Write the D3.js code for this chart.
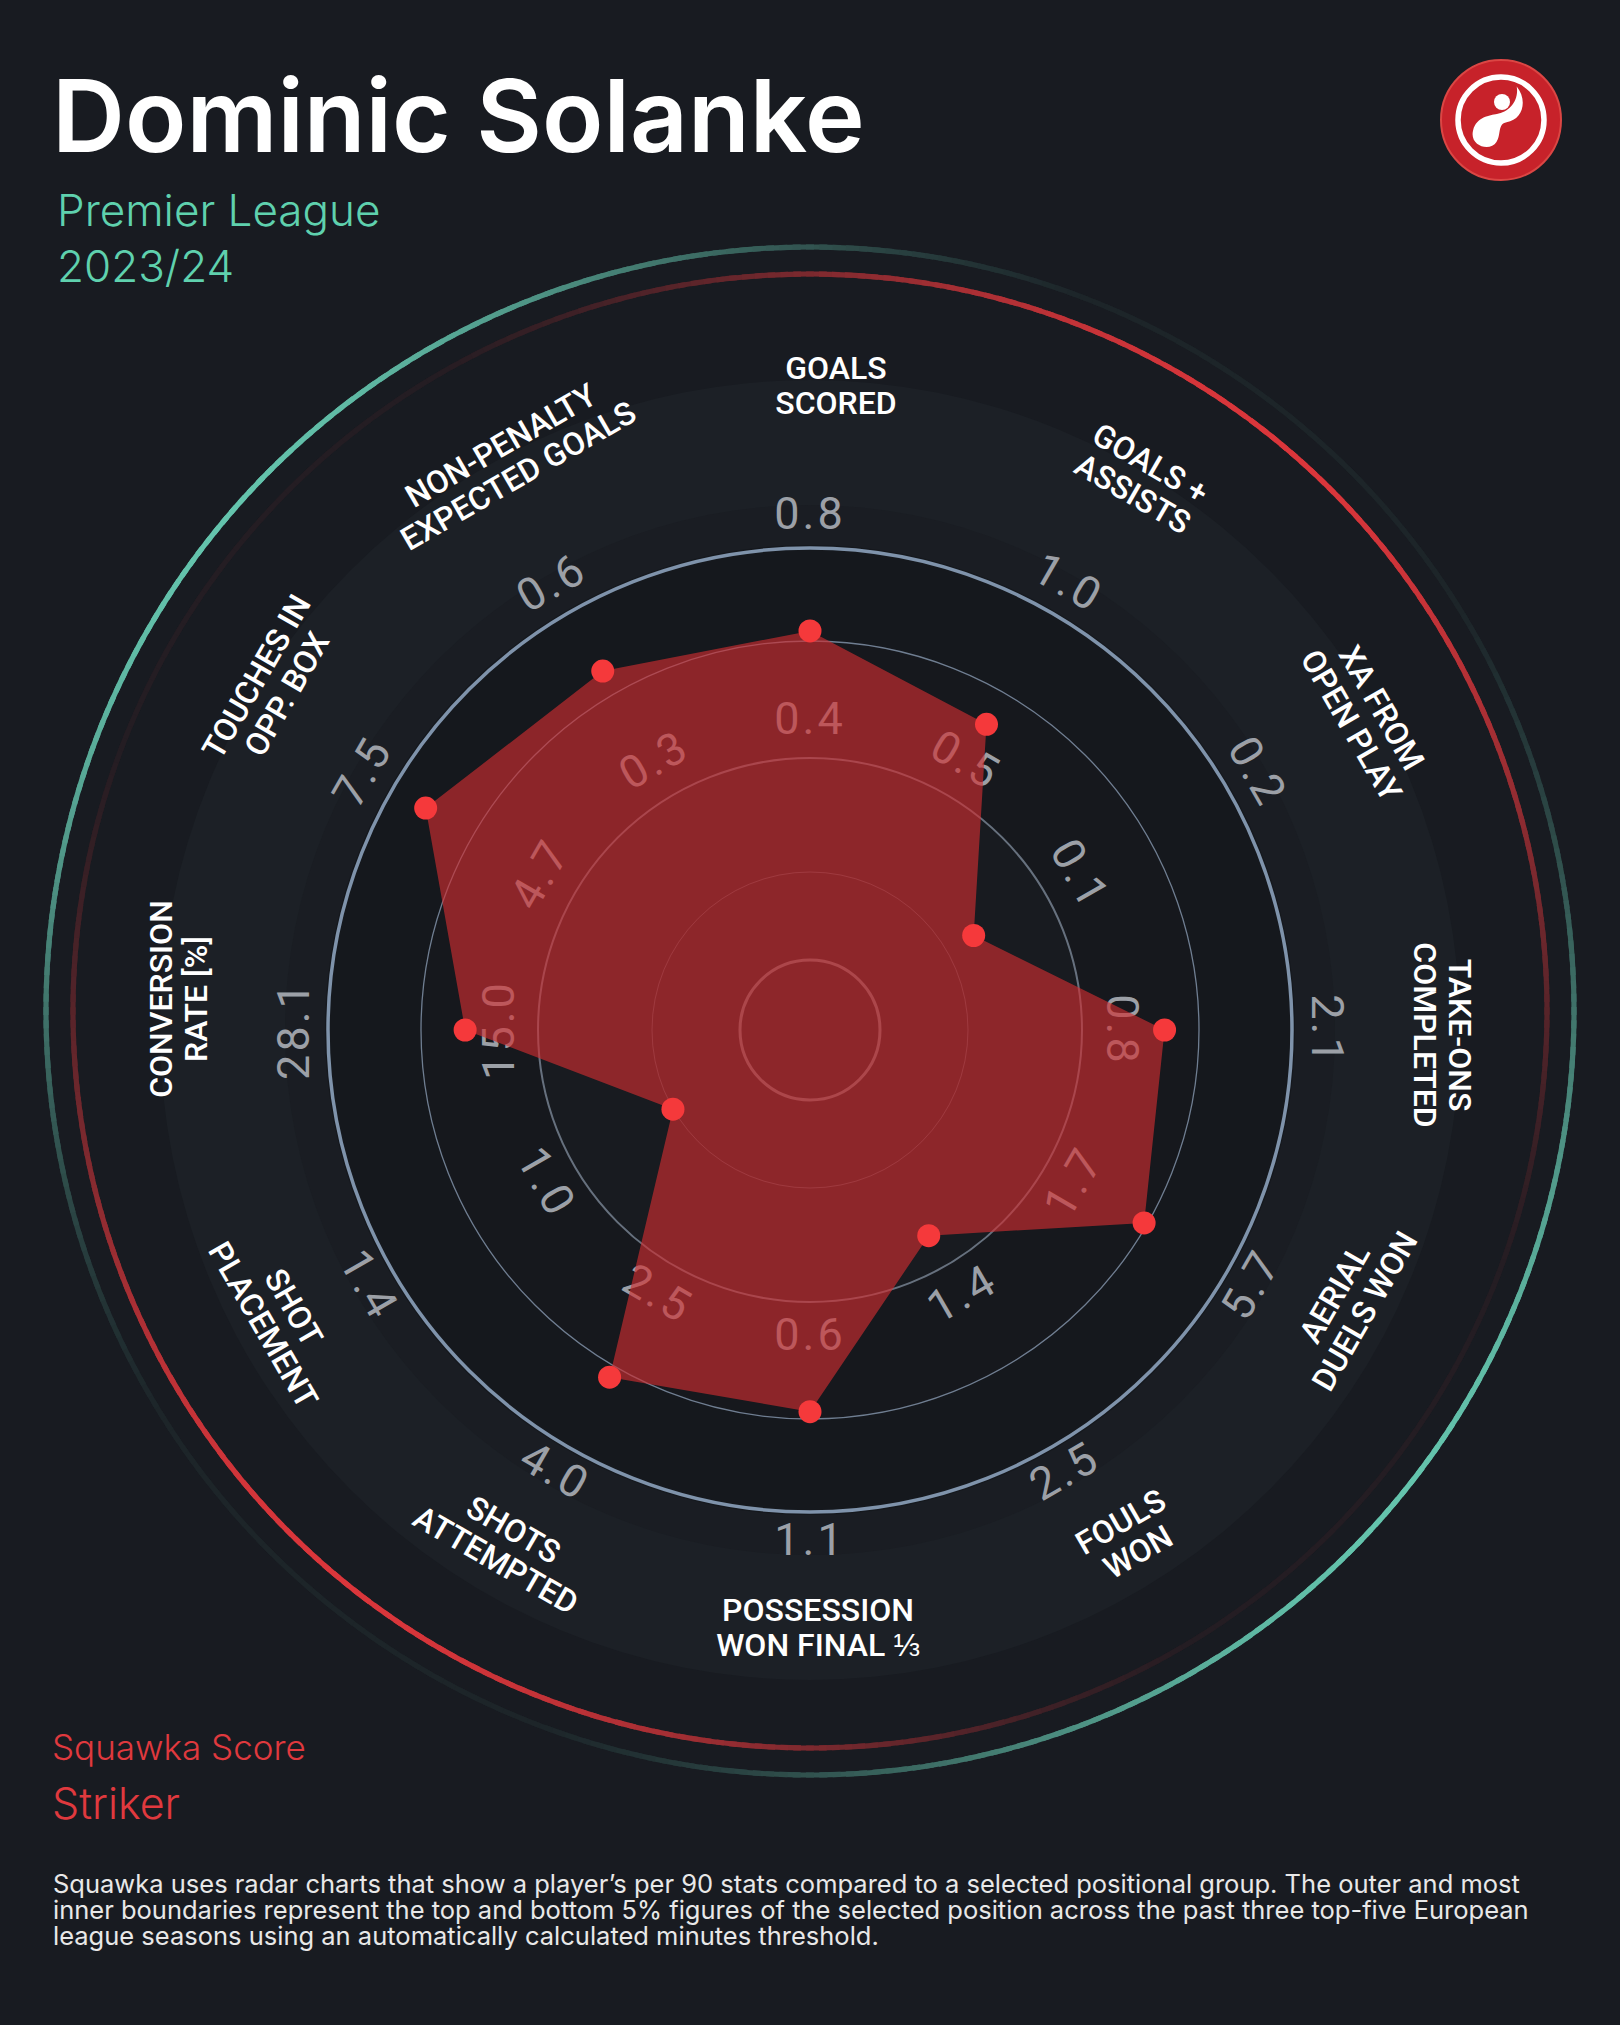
<!DOCTYPE html>
<html>
<head>
<meta charset="utf-8">
<script src="https://cdn.jsdelivr.net/npm/d3@7"></script>
<style>
  body { margin: 0; background: #181b21; }
  svg { display: block; }
</style>
</head>
<body>
<svg id="chart" width="1620" height="2025"></svg>
<script>
// spokes, clockwise from the top
var categories = [
  "GOALS\nSCORED", "GOALS +\nASSISTS", "XA FROM\nOPEN PLAY", "TAKE-ONS\nCOMPLETED",
  "AERIAL\nDUELS WON", "FOULS\nWON", "POSSESSION\nWON FINAL \u2153", "SHOTS\nATTEMPTED",
  "SHOT\nPLACEMENT", "CONVERSION\nRATE [%]", "TOUCHES IN\nOPP. BOX", "NON-PENALTY\nEXPECTED GOALS"
];
// the two tick values printed on each spoke
var innerTicks = [0.4, 0.5, 0.1, 0.8, 1.7, 1.4, 0.6, 2.5, 1.0, 15.0, 4.7, 0.3];
var outerTicks = [0.8, 1.0, 0.2, 2.1, 5.7, 2.5, 1.1, 4.0, 1.4, 28.1, 7.5, 0.6];
// per 90 values
var values = [0.57, 0.60, 0.04, 1.07, 3.14, 1.00, 0.77, 3.15, 0.70, 17.1, 6.50, 0.45];

var infoLines = [
  "Squawka uses radar charts that show a player\u2019s per 90 stats compared to a selected positional group. The outer and most",
  "inner boundaries represent the top and bottom 5% figures of the selected position across the past three top-five European",
  "league seasons using an automatically calculated minutes threshold."
];

var W = 1620, H = 2025;
var cx = 810, cy = 1030;
var bg = "#181b21";

var svg = d3.select("#chart");

svg.append("rect").attr("width", W).attr("height", H).attr("fill", bg);

var angle = d3.scaleLinear().domain([0, categories.length]).range([0, 2 * Math.PI]);
var rScales = categories.map(function(c, i) {
  return d3.scaleLinear().domain([innerTicks[i], outerTicks[i]]).range([312, 517]);
});
var fmt = d3.format(".1f");

function deg(i) { return angle(i) * 180 / Math.PI; }
function isFlipped(i) { var d = deg(i); return d > 90 && d < 270; }
function rotation(i) { return isFlipped(i) ? deg(i) - 180 : deg(i); }
function px(r, i) { return r * Math.sin(angle(i)); }
function py(r, i) { return -r * Math.cos(angle(i)); }

//Background bands
var bands = [
  {r: 650, fill: "#1c2026"},
  {r: 525, fill: "#1a1d23"},
  {r: 485, fill: "#15181d"},
  {r: 390, fill: "#16181d"},
  {r: 272, fill: "#181b20"}
];
var g = svg.append("g").attr("transform", "translate(" + cx + "," + cy + ")");
g.selectAll("circle.band").data(bands).enter().append("circle")
  .attr("class", "band").attr("r", function(d) { return d.r; }).attr("fill", function(d) { return d.fill; });

//Decorative outer rings, brightness fading with angle away from two opposite peaks
var dc = {x: 810, y: 1011};
var ringG = svg.append("g").attr("transform", "translate(" + dc.x + "," + dc.y + ")");
function fadeRing(r, color, peakDeg) {
  var seg = d3.range(0, 360, 1);
  var mix = d3.interpolateRgb(bg, color);
  var arc = d3.arc().innerRadius(r - 2.6).outerRadius(r + 2.6);
  ringG.selectAll(null).data(seg).enter().append("path")
    .attr("d", function(a) {
      return arc({startAngle: (a - 0.3) * Math.PI / 180, endAngle: (a + 1.3) * Math.PI / 180});
    })
    .attr("fill", function(a) {
      var c = Math.cos((a + 0.5 - peakDeg) * Math.PI / 180);
      return mix(Math.max(0.06, Math.pow(c * c, 1.25)));
    });
}
fadeRing(764, "#64c4ad", 310);
fadeRing(737, "#da363b", 40);

//Grid rings
var rings = [
  {r: 70, w: 3, c: "rgba(215,220,230,0.45)"},
  {r: 158, w: 1, c: "rgba(160,175,195,0.35)"},
  {r: 272, w: 2, c: "rgba(170,185,205,0.55)"},
  {r: 389, w: 1.3, c: "rgba(150,170,195,0.7)"},
  {r: 482, w: 3.5, c: "#7f93ab"}
];
g.selectAll("circle.ring").data(rings).enter().append("circle")
  .attr("class", "ring").attr("r", function(d) { return d.r; })
  .attr("fill", "none").attr("stroke", function(d) { return d.c; })
  .attr("stroke-width", function(d) { return d.w; });

//Tick labels
function tickText(tickArr) {
  g.selectAll(null).data(tickArr).enter().append("text")
    .attr("transform", function(d, i) {
      var r = rScales[i](d) - (isFlipped(i) ? 8 : 0);
      return "translate(" + px(r, i) + "," + py(r, i) + ") rotate(" + rotation(i) + ")";
    })
    .attr("text-anchor", "middle")
    .attr("dominant-baseline", "central")
    .style("font-family", "Roboto, 'Liberation Sans', sans-serif")
    .style("font-weight", 400)
    .style("font-size", "45px")
    .style("letter-spacing", "3px")
    .attr("fill", "#9ca0a7")
    .text(function(d) { return fmt(d); });
}
tickText(innerTicks);
tickText(outerTicks);

//Player shape
var radar = d3.lineRadial()
  .angle(function(d, i) { return angle(i); })
  .radius(function(d, i) { return rScales[i](d); })
  .curve(d3.curveLinearClosed);
g.append("path").datum(values)
  .attr("d", radar)
  .attr("fill", "rgb(208,46,48)")
  .attr("fill-opacity", 0.64);
g.selectAll("circle.dot").data(values).enter().append("circle")
  .attr("class", "dot")
  .attr("cx", function(d, i) { return px(rScales[i](d), i); })
  .attr("cy", function(d, i) { return py(rScales[i](d), i); })
  .attr("r", 11.5)
  .attr("fill", "#f5393b");

//Spoke names
var labelR = 621, lift = 13, shift = 11, lineH = 35;
function slide(i) {
  // upright names sit a little clockwise of their spoke; the flipped ones less so on the left
  return isFlipped(i) ? 8 + 17 * Math.sin(angle(i)) : (deg(i) === 0 ? 26 : 18);
}
var lab = g.selectAll("g.lab").data(categories).enter().append("g")
  .attr("class", "lab")
  .attr("transform", function(d, i) {
    return "translate(" + px(labelR, i) + "," + (py(labelR, i) - lift) + ") rotate(" + rotation(i) + ")";
  });
lab.each(function(d, i) {
  var lines = d.split("\n");
  var t = d3.select(this).append("text")
    .attr("text-anchor", "middle")
    .attr("dominant-baseline", "central")
    .style("font-family", "Roboto, 'Liberation Sans', sans-serif")
    .style("font-weight", 500)
    .style("font-size", "32px")
    .attr("fill", "#ffffff");
  lines.forEach(function(l, k) {
    t.append("tspan").attr("x", slide(i))
      .attr("y", -shift + (k - (lines.length - 1) / 2) * lineH)
      .text(l);
  });
});

//Titles
svg.append("text").attr("x", 52).attr("y", 152)
  .style("font-family", "Inter, sans-serif").style("font-weight", 600).style("font-size", "101px")
  .attr("fill", "#ffffff").text("Dominic Solanke");
svg.append("text").attr("x", 57).attr("y", 226)
  .style("font-family", "Inter, sans-serif").style("font-weight", 300).style("font-size", "44px")
  .attr("fill", "#5fd1ae").text("Premier League");
svg.append("text").attr("x", 57).attr("y", 282)
  .style("font-family", "Inter, sans-serif").style("font-weight", 300).style("font-size", "44px")
  .attr("fill", "#5fd1ae").text("2023/24");

svg.append("text").attr("x", 52).attr("y", 1760)
  .style("font-family", "Inter, sans-serif").style("font-weight", 300).style("font-size", "35px")
  .attr("fill", "#e0393e").text("Squawka Score");
svg.append("text").attr("x", 52).attr("y", 1819)
  .style("font-family", "Inter, sans-serif").style("font-weight", 300).style("font-size", "43px")
  .attr("fill", "#e0393e").text("Striker");

svg.selectAll("text.info").data(infoLines).enter().append("text")
  .attr("class", "info")
  .attr("x", 53).attr("y", function(d, i) { return 1893 + i * 26; })
  .style("font-family", "Inter, sans-serif").style("font-size", "25.5px")
  .attr("fill", "#e8e8e8").text(function(d) { return d; });

//Logo
var logo = svg.append("g").attr("transform", "translate(1501,120)");
logo.append("circle").attr("r", 60).attr("fill", "#c7222a").attr("stroke", "#db4644").attr("stroke-width", 2);
logo.append("circle").attr("r", 43).attr("fill", "none").attr("stroke", "#ffffff").attr("stroke-width", 5.5);
var mark = logo.append("g").attr("transform", "rotate(22)");
mark.append("path")
  .attr("d", "M2,-37 C18,-28 20,-8 6,0 C-2,5 6,14 4,22 C2,34 -20,36 -22,20 C-24,6 -12,0 -6,-4 C4,-10 10,-24 2,-37 Z")
  .attr("fill", "#ffffff");
logo.append("circle").attr("cx", 1).attr("cy", -18).attr("r", 8).attr("fill", "#ffffff");
</script>
</body>
</html>
